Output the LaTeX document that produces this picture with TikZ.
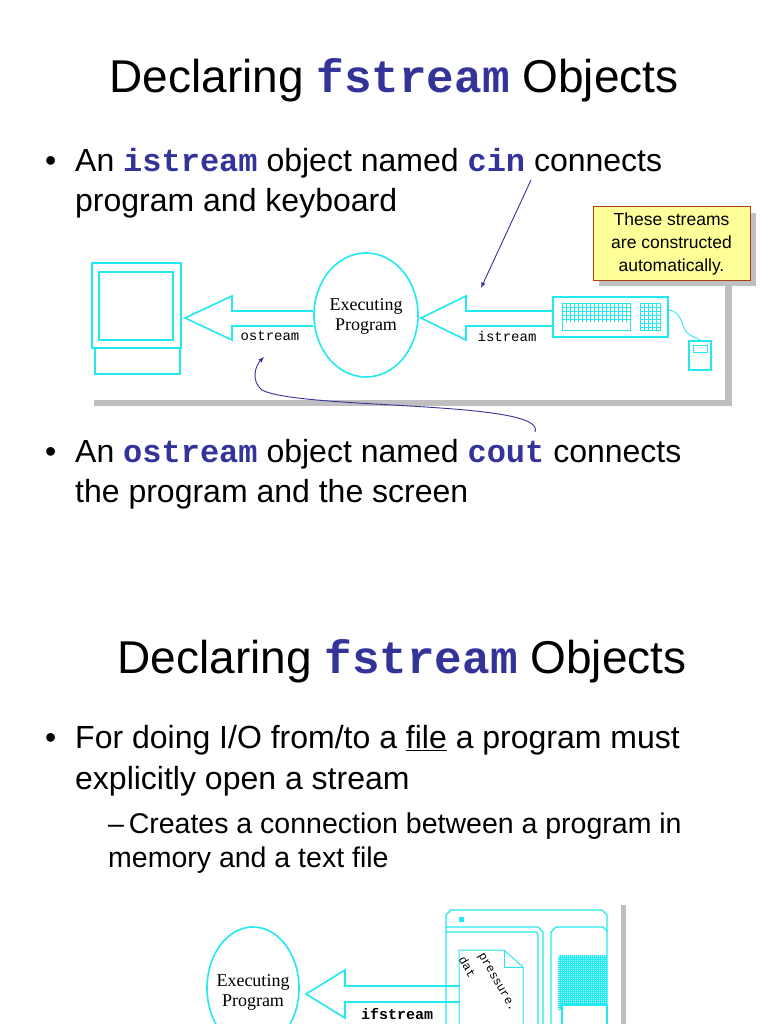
\documentclass[tikz,border=0pt]{standalone}
\usepackage{fontspec}
\usetikzlibrary{shapes.geometric}
\setmainfont{Liberation Sans}
\newfontfamily\cour{Liberation Mono}
\newfontfamily\ser{Liberation Serif}
\definecolor{cy}{HTML}{22E8F0}
\definecolor{cd}{HTML}{333399}
\definecolor{nb}{HTML}{FFFF99}
\definecolor{nbr}{HTML}{B04010}
\newcommand{\cw}[1]{{\cour\bfseries\color{cd}#1}}
\begin{document}
\begin{tikzpicture}[x=1pt,y=-1pt,
  ttl/.style={font=\fontsize{46}{48}\selectfont,anchor=base},
  bt/.style={font=\fontsize{32}{34}\selectfont,anchor=base west,inner sep=0},
  st/.style={font=\fontsize{28.5}{30}\selectfont,anchor=base west,inner sep=0},
  cyl/.style={draw=cy,line width=1.6pt},
  lab/.style={font=\cour\fontsize{14}{15}\selectfont,inner sep=0}]
\useasboundingbox (0,0) rectangle (768,1024);
\fill[white] (0,0) rectangle (768,1024);
% top text
\node[ttl] (t1) at (394,93) {Declaring \cw{fstream} Objects};
\node[bt] (b1) at (45,172) {•};
\node[bt] (l1) at (75,172) {An \cw{istream} object named \cw{cin} connects};
\node[bt] (l2) at (75,212) {program and keyboard};
% panel
\fill[gray!50] (94,400) rectangle (732,406);
\fill[gray!50] (725,240) rectangle (732,406);
% monitor
\draw[cyl] (92,263) rectangle (181,348);
\draw[cyl] (99,272) rectangle (173,340);
\draw[cyl] (95,348) rectangle (180,374);
% arrows
\draw[cyl] (313,311) -- (232,311) -- (232,296) -- (185,318) -- (232,340) -- (232,326) -- (313,326);
\draw[cyl] (553,311) -- (466,311) -- (466,296) -- (421,318) -- (466,340) -- (466,326) -- (553,326);
\node[draw=cy,line width=1.6pt,ellipse,minimum width=104pt,minimum height=124pt,inner sep=0] (ep) at (366,315) {};
\node[font=\ser\fontsize{18}{20}\selectfont,align=center] (ept) at (366,316) {Executing\\Program};
\node[lab] (os) at (270,336) {ostream};
\node[lab] (is) at (507,336) {istream};
% keyboard
\draw[cyl,line width=1.2pt] (553,297) rectangle (668,337);
\draw[draw=cy,line width=0.7pt] (562,303) rectangle (630,330);
\foreach \x in {566,570,...,626} \draw[draw=cy,line width=0.5pt] (\x,303) -- (\x,322);
\foreach \y in {307,311,...,322} \draw[draw=cy,line width=0.5pt] (562,\y) -- (630,\y);
\draw[draw=cy,line width=0.7pt] (640,303) rectangle (660,330);
\foreach \x in {644,648,...,656} \draw[draw=cy,line width=0.5pt] (\x,303) -- (\x,330);
\foreach \y in {307,311,...,327} \draw[draw=cy,line width=0.5pt] (640,\y) -- (660,\y);
\draw[draw=cy,line width=0.8pt] (668,310) .. controls (685,312) and (680,330) .. (690,335) -- (700,340);
\draw[cyl,line width=1.2pt] (689,341) rectangle (711,370);
\draw[draw=cy,line width=0.8pt] (693,345) rectangle (707,352);
% note
\fill[gray!50] (599,213) rectangle (756,286);
\node[draw=nbr,fill=nb,line width=1pt,minimum width=157pt,minimum height=73pt,align=center,font=\fontsize{17.5}{23}\selectfont] (note) at (671.5,243.5) {These streams\\are constructed\\automatically.};
\coordinate (c1) at (531,180);
\coordinate (c2) at (481,288);
\draw[-latex,cd,line width=0.9pt] (c1) -- (c2);
\coordinate (c3) at (535,432);
\coordinate (c4) at (264,357);
\draw[-latex,cd,line width=0.9pt] (c3) .. controls (548,400) and (300,410) .. (262,390) .. controls (250,380) and (256,365) .. (c4);
\node[bt] (b2) at (45,462) {•};
\node[bt] (l3) at (75,462) {An \cw{ostream} object named \cw{cout} connects};
\node[bt] (l4) at (75,502) {the program and the screen};
% bottom
\node[ttl] (t2) at (402,673) {Declaring \cw{fstream} Objects};
\node[bt] (b3) at (45,748) {•};
\node[bt] (l5) at (75,748) {For doing I/O from/to a \underline{file} a program must};
\node[bt] (l6) at (75,789) {explicitly open a stream};
\node[st] (d1) at (108,833) {–\,Creates a connection between a program in};
\node[st] (l7) at (108,867) {memory and a text file};
\fill[gray!50] (621,905) rectangle (626,1024);
\node[draw=cy,line width=1.6pt,ellipse,minimum width=92pt,minimum height=122pt,inner sep=0] (ep2) at (253,988) {};
\node[font=\ser\fontsize{18}{20}\selectfont,align=center] (ept2) at (253,992) {Executing\\Program};
\draw[cyl] (460,986) -- (345,986) -- (345,970) -- (306,994) -- (345,1018) -- (345,1002) -- (460,1002);
\node[lab,font=\cour\bfseries\fontsize{15}{15}\selectfont] (ifs) at (397,1014) {ifstream};
% computer
\draw[cyl,line width=1.2pt] (446,1024) -- (446,915) -- (451,910) -- (602,910) -- (607,915) -- (607,1024);
\fill[cy] (459,917) rectangle (464,922);
\draw[cyl,line width=1.2pt] (446,927) -- (538,927) -- (543,932) -- (543,1024);
\draw[cyl,line width=1.2pt] (446,932) -- (536,932) -- (538,934) -- (538,1024);
\draw[cyl,line width=1.2pt] (551,1024) -- (551,932) -- (556,927) -- (603,927) -- (607,931);
\fill[cy!40] (558,955) rectangle (607,1010);
\foreach \y in {957,959,...,1009} \draw[draw=cy,line width=0.3pt] (558,\y) -- (607,\y);
\foreach \x in {560,562,...,606} \draw[draw=cy,line width=0.3pt] (\x,955) -- (\x,1010);
\draw[cyl,line width=1.2pt] (562,1005) rectangle (607,1024);
\fill[white] (563,1006) rectangle (606,1024);
\draw[cyl,line width=1pt] (459,1024) -- (459,950) -- (504,950) -- (523,967) -- (523,1024);
\draw[cyl,line width=1pt] (504,950) -- (504,967) -- (523,967);
\node[lab,font=\cour\fontsize{12}{12}\selectfont,rotate=-60,anchor=north west] (pd) at (484,952) {pressure.};
\node[lab,font=\cour\fontsize{12}{12}\selectfont,rotate=-60,anchor=north west] (pd2) at (466,955) {dat};
\end{tikzpicture}
\end{document}
